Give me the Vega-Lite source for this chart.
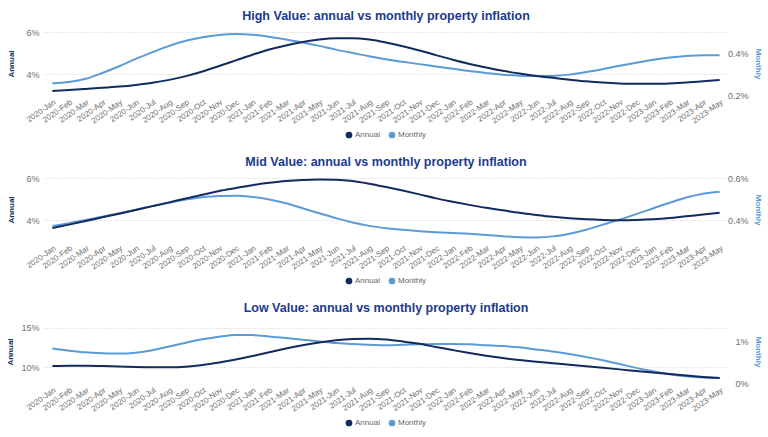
{
  "$schema": "https://vega.github.io/schema/vega-lite/v6.json",
  "background": "white",
  "padding": {"left": 6, "right": 2, "top": 9, "bottom": 2},
  "data": {"values": [
    {"band":"High","month":"2020-Jan","annual":3.19,"monthly":0.256},
    {"band":"High","month":"2020-Feb","annual":3.24,"monthly":0.262},
    {"band":"High","month":"2020-Mar","annual":3.29,"monthly":0.277},
    {"band":"High","month":"2020-Apr","annual":3.34,"monthly":0.305},
    {"band":"High","month":"2020-May","annual":3.40,"monthly":0.337},
    {"band":"High","month":"2020-Jun","annual":3.48,"monthly":0.372},
    {"band":"High","month":"2020-Jul","annual":3.58,"monthly":0.404},
    {"band":"High","month":"2020-Aug","annual":3.72,"monthly":0.434},
    {"band":"High","month":"2020-Sep","annual":3.90,"monthly":0.458},
    {"band":"High","month":"2020-Oct","annual":4.12,"monthly":0.475},
    {"band":"High","month":"2020-Nov","annual":4.38,"monthly":0.486},
    {"band":"High","month":"2020-Dec","annual":4.65,"monthly":0.490},
    {"band":"High","month":"2021-Jan","annual":4.92,"monthly":0.487},
    {"band":"High","month":"2021-Feb","annual":5.17,"monthly":0.477},
    {"band":"High","month":"2021-Mar","annual":5.36,"monthly":0.464},
    {"band":"High","month":"2021-Apr","annual":5.52,"monthly":0.450},
    {"band":"High","month":"2021-May","annual":5.64,"monthly":0.434},
    {"band":"High","month":"2021-Jun","annual":5.70,"monthly":0.416},
    {"band":"High","month":"2021-Jul","annual":5.70,"monthly":0.400},
    {"band":"High","month":"2021-Aug","annual":5.64,"monthly":0.385},
    {"band":"High","month":"2021-Sep","annual":5.50,"monthly":0.370},
    {"band":"High","month":"2021-Oct","annual":5.32,"monthly":0.358},
    {"band":"High","month":"2021-Nov","annual":5.12,"monthly":0.347},
    {"band":"High","month":"2021-Dec","annual":4.90,"monthly":0.336},
    {"band":"High","month":"2022-Jan","annual":4.68,"monthly":0.325},
    {"band":"High","month":"2022-Feb","annual":4.48,"monthly":0.314},
    {"band":"High","month":"2022-Mar","annual":4.31,"monthly":0.305},
    {"band":"High","month":"2022-Apr","annual":4.15,"monthly":0.297},
    {"band":"High","month":"2022-May","annual":4.02,"monthly":0.292},
    {"band":"High","month":"2022-Jun","annual":3.91,"monthly":0.290},
    {"band":"High","month":"2022-Jul","annual":3.82,"monthly":0.291},
    {"band":"High","month":"2022-Aug","annual":3.73,"monthly":0.297},
    {"band":"High","month":"2022-Sep","annual":3.65,"monthly":0.309},
    {"band":"High","month":"2022-Oct","annual":3.59,"monthly":0.323},
    {"band":"High","month":"2022-Nov","annual":3.55,"monthly":0.339},
    {"band":"High","month":"2022-Dec","annual":3.53,"monthly":0.354},
    {"band":"High","month":"2023-Jan","annual":3.53,"monthly":0.368},
    {"band":"High","month":"2023-Feb","annual":3.55,"monthly":0.379},
    {"band":"High","month":"2023-Mar","annual":3.59,"monthly":0.386},
    {"band":"High","month":"2023-Apr","annual":3.65,"monthly":0.389},
    {"band":"High","month":"2023-May","annual":3.72,"monthly":0.389},
    {"band":"Mid","month":"2020-Jan","annual":3.62,"monthly":0.372},
    {"band":"Mid","month":"2020-Feb","annual":3.78,"monthly":0.385},
    {"band":"Mid","month":"2020-Mar","annual":3.95,"monthly":0.400},
    {"band":"Mid","month":"2020-Apr","annual":4.13,"monthly":0.416},
    {"band":"Mid","month":"2020-May","annual":4.30,"monthly":0.432},
    {"band":"Mid","month":"2020-Jun","annual":4.48,"monthly":0.449},
    {"band":"Mid","month":"2020-Jul","annual":4.66,"monthly":0.466},
    {"band":"Mid","month":"2020-Aug","annual":4.84,"monthly":0.482},
    {"band":"Mid","month":"2020-Sep","annual":5.02,"monthly":0.497},
    {"band":"Mid","month":"2020-Oct","annual":5.20,"monthly":0.508},
    {"band":"Mid","month":"2020-Nov","annual":5.38,"monthly":0.514},
    {"band":"Mid","month":"2020-Dec","annual":5.52,"monthly":0.515},
    {"band":"Mid","month":"2021-Jan","annual":5.66,"monthly":0.510},
    {"band":"Mid","month":"2021-Feb","annual":5.77,"monthly":0.498},
    {"band":"Mid","month":"2021-Mar","annual":5.86,"monthly":0.480},
    {"band":"Mid","month":"2021-Apr","annual":5.91,"monthly":0.456},
    {"band":"Mid","month":"2021-May","annual":5.93,"monthly":0.432},
    {"band":"Mid","month":"2021-Jun","annual":5.92,"monthly":0.409},
    {"band":"Mid","month":"2021-Jul","annual":5.86,"monthly":0.388},
    {"band":"Mid","month":"2021-Aug","annual":5.73,"monthly":0.372},
    {"band":"Mid","month":"2021-Sep","annual":5.57,"monthly":0.361},
    {"band":"Mid","month":"2021-Oct","annual":5.40,"monthly":0.353},
    {"band":"Mid","month":"2021-Nov","annual":5.22,"monthly":0.347},
    {"band":"Mid","month":"2021-Dec","annual":5.03,"monthly":0.342},
    {"band":"Mid","month":"2022-Jan","annual":4.87,"monthly":0.338},
    {"band":"Mid","month":"2022-Feb","annual":4.72,"monthly":0.334},
    {"band":"Mid","month":"2022-Mar","annual":4.58,"monthly":0.329},
    {"band":"Mid","month":"2022-Apr","annual":4.46,"monthly":0.323},
    {"band":"Mid","month":"2022-May","annual":4.34,"monthly":0.318},
    {"band":"Mid","month":"2022-Jun","annual":4.24,"monthly":0.317},
    {"band":"Mid","month":"2022-Jul","annual":4.15,"monthly":0.322},
    {"band":"Mid","month":"2022-Aug","annual":4.08,"monthly":0.335},
    {"band":"Mid","month":"2022-Sep","annual":4.03,"monthly":0.354},
    {"band":"Mid","month":"2022-Oct","annual":4.00,"monthly":0.378},
    {"band":"Mid","month":"2022-Nov","annual":3.99,"monthly":0.402},
    {"band":"Mid","month":"2022-Dec","annual":4.00,"monthly":0.428},
    {"band":"Mid","month":"2023-Jan","annual":4.03,"monthly":0.455},
    {"band":"Mid","month":"2023-Feb","annual":4.09,"monthly":0.482},
    {"band":"Mid","month":"2023-Mar","annual":4.18,"monthly":0.507},
    {"band":"Mid","month":"2023-Apr","annual":4.26,"monthly":0.525},
    {"band":"Mid","month":"2023-May","annual":4.35,"monthly":0.535},
    {"band":"Low","month":"2020-Jan","annual":10.15,"monthly":0.82},
    {"band":"Low","month":"2020-Feb","annual":10.18,"monthly":0.77},
    {"band":"Low","month":"2020-Mar","annual":10.18,"monthly":0.73},
    {"band":"Low","month":"2020-Apr","annual":10.15,"monthly":0.71},
    {"band":"Low","month":"2020-May","annual":10.10,"monthly":0.70},
    {"band":"Low","month":"2020-Jun","annual":10.04,"monthly":0.72},
    {"band":"Low","month":"2020-Jul","annual":10.00,"monthly":0.78},
    {"band":"Low","month":"2020-Aug","annual":9.99,"monthly":0.87},
    {"band":"Low","month":"2020-Sep","annual":10.07,"monthly":0.96},
    {"band":"Low","month":"2020-Oct","annual":10.28,"monthly":1.04},
    {"band":"Low","month":"2020-Nov","annual":10.60,"monthly":1.10},
    {"band":"Low","month":"2020-Dec","annual":10.98,"monthly":1.14},
    {"band":"Low","month":"2021-Jan","annual":11.42,"monthly":1.14},
    {"band":"Low","month":"2021-Feb","annual":11.90,"monthly":1.11},
    {"band":"Low","month":"2021-Mar","annual":12.38,"monthly":1.07},
    {"band":"Low","month":"2021-Apr","annual":12.80,"monthly":1.03},
    {"band":"Low","month":"2021-May","annual":13.15,"monthly":0.99},
    {"band":"Low","month":"2021-Jun","annual":13.42,"monthly":0.95},
    {"band":"Low","month":"2021-Jul","annual":13.58,"monthly":0.93},
    {"band":"Low","month":"2021-Aug","annual":13.63,"monthly":0.91},
    {"band":"Low","month":"2021-Sep","annual":13.52,"monthly":0.90},
    {"band":"Low","month":"2021-Oct","annual":13.28,"monthly":0.91},
    {"band":"Low","month":"2021-Nov","annual":12.98,"monthly":0.92},
    {"band":"Low","month":"2021-Dec","annual":12.58,"monthly":0.93},
    {"band":"Low","month":"2022-Jan","annual":12.18,"monthly":0.93},
    {"band":"Low","month":"2022-Feb","annual":11.80,"monthly":0.92},
    {"band":"Low","month":"2022-Mar","annual":11.46,"monthly":0.90},
    {"band":"Low","month":"2022-Apr","annual":11.16,"monthly":0.88},
    {"band":"Low","month":"2022-May","annual":10.92,"monthly":0.85},
    {"band":"Low","month":"2022-Jun","annual":10.70,"monthly":0.80},
    {"band":"Low","month":"2022-Jul","annual":10.52,"monthly":0.75},
    {"band":"Low","month":"2022-Aug","annual":10.32,"monthly":0.69},
    {"band":"Low","month":"2022-Sep","annual":10.13,"monthly":0.62},
    {"band":"Low","month":"2022-Oct","annual":9.93,"monthly":0.54},
    {"band":"Low","month":"2022-Nov","annual":9.73,"monthly":0.45},
    {"band":"Low","month":"2022-Dec","annual":9.53,"monthly":0.36},
    {"band":"Low","month":"2023-Jan","annual":9.33,"monthly":0.28},
    {"band":"Low","month":"2023-Feb","annual":9.13,"monthly":0.21},
    {"band":"Low","month":"2023-Mar","annual":8.94,"monthly":0.16},
    {"band":"Low","month":"2023-Apr","annual":8.77,"monthly":0.13},
    {"band":"Low","month":"2023-May","annual":8.63,"monthly":0.12}
  ]},
  "vconcat": [
    {
      "title": "High Value: annual vs monthly property inflation",
      "width": 684,
      "height": 63,
      "transform": [{"filter": "datum.band === 'High'"}],
      "encoding": {"x": {"field": "month", "type": "ordinal", "sort": null, "scale": {"type": "point", "padding": 0.5}, "axis": {"title": null}}},
      "layer": [
        {
          "mark": {"type": "line", "interpolate": "monotone", "strokeWidth": 2},
          "encoding": {
            "y": {"field": "monthly", "type": "quantitative", "scale": {"domain": [0.2, 0.5], "nice": false, "zero": false},
                  "axis": {"orient": "right", "title": "Monthly", "titleColor": "#5B9BD5", "values": [0.2, 0.4], "labelExpr": "datum.value + '%'", "grid": false, "labelAlign": "right", "labelPadding": 20, "titlePadding": 5}},
            "color": {"datum": "Monthly", "type": "nominal"}
          }
        },
        {
          "mark": {"type": "line", "interpolate": "monotone", "strokeWidth": 2},
          "encoding": {
            "y": {"field": "annual", "type": "quantitative", "scale": {"domain": [3, 6], "nice": false, "zero": false},
                  "axis": {"title": "Annual", "titleColor": "#132A5E", "values": [4, 6], "labelExpr": "datum.value + '%'", "grid": true, "titlePadding": 10}},
            "color": {"datum": "Annual", "type": "nominal",
                      "scale": {"domain": ["Annual", "Monthly"], "range": ["#132A5E", "#5B9BD5"]},
                      "legend": {"title": null, "orient": "bottom", "direction": "horizontal",
                                 "encode": {"symbols": {"update": {"fill": {"signal": "datum.value === 'Annual' ? '#132A5E' : '#5B9BD5'"}, "strokeWidth": {"value": 0}}}}}}
          }
        }
      ],
      "resolve": {"scale": {"y": "independent"}}
    },
    {
      "title": "Mid Value: annual vs monthly property inflation",
      "width": 684,
      "height": 63,
      "transform": [{"filter": "datum.band === 'Mid'"}],
      "encoding": {"x": {"field": "month", "type": "ordinal", "sort": null, "scale": {"type": "point", "padding": 0.5}, "axis": {"title": null}}},
      "layer": [
        {
          "mark": {"type": "line", "interpolate": "monotone", "strokeWidth": 2},
          "encoding": {
            "y": {"field": "monthly", "type": "quantitative", "scale": {"domain": [0.3, 0.6], "nice": false, "zero": false},
                  "axis": {"orient": "right", "title": "Monthly", "titleColor": "#5B9BD5", "values": [0.4, 0.6], "labelExpr": "datum.value + '%'", "grid": false, "labelAlign": "right", "labelPadding": 20, "titlePadding": 5}},
            "color": {"datum": "Monthly", "type": "nominal"}
          }
        },
        {
          "mark": {"type": "line", "interpolate": "monotone", "strokeWidth": 2},
          "encoding": {
            "y": {"field": "annual", "type": "quantitative", "scale": {"domain": [3, 6], "nice": false, "zero": false},
                  "axis": {"title": "Annual", "titleColor": "#132A5E", "values": [4, 6], "labelExpr": "datum.value + '%'", "grid": true, "titlePadding": 10}},
            "color": {"datum": "Annual", "type": "nominal",
                      "scale": {"domain": ["Annual", "Monthly"], "range": ["#132A5E", "#5B9BD5"]},
                      "legend": {"title": null, "orient": "bottom", "direction": "horizontal",
                                 "encode": {"symbols": {"update": {"fill": {"signal": "datum.value === 'Annual' ? '#132A5E' : '#5B9BD5'"}, "strokeWidth": {"value": 0}}}}}}
          }
        }
      ],
      "resolve": {"scale": {"y": "independent"}}
    },
    {
      "title": "Low Value: annual vs monthly property inflation",
      "width": 684,
      "height": 63,
      "transform": [{"filter": "datum.band === 'Low'"}],
      "encoding": {"x": {"field": "month", "type": "ordinal", "sort": null, "scale": {"type": "point", "padding": 0.5}, "axis": {"title": null}}},
      "layer": [
        {
          "mark": {"type": "line", "interpolate": "monotone", "strokeWidth": 2},
          "encoding": {
            "y": {"field": "monthly", "type": "quantitative", "scale": {"domain": [0, 1.5], "nice": false, "zero": false},
                  "axis": {"orient": "right", "title": "Monthly", "titleColor": "#5B9BD5", "values": [0, 1], "labelExpr": "datum.value + '%'", "grid": false, "labelAlign": "right", "labelPadding": 20, "titlePadding": 5}},
            "color": {"datum": "Monthly", "type": "nominal"}
          }
        },
        {
          "mark": {"type": "line", "interpolate": "monotone", "strokeWidth": 2},
          "encoding": {
            "y": {"field": "annual", "type": "quantitative", "scale": {"domain": [8, 16], "nice": false, "zero": false},
                  "axis": {"title": "Annual", "titleColor": "#132A5E", "values": [10, 15], "labelExpr": "datum.value + '%'", "grid": true, "titlePadding": 6}},
            "color": {"datum": "Annual", "type": "nominal",
                      "scale": {"domain": ["Annual", "Monthly"], "range": ["#132A5E", "#5B9BD5"]},
                      "legend": {"title": null, "orient": "bottom", "direction": "horizontal",
                                 "encode": {"symbols": {"update": {"fill": {"signal": "datum.value === 'Annual' ? '#132A5E' : '#5B9BD5'"}, "strokeWidth": {"value": 0}}}}}}
          }
        }
      ],
      "resolve": {"scale": {"y": "independent"}}
    }
  ],
  "spacing": 16,
  "resolve": {"scale": {"color": "independent"}, "legend": {"color": "independent"}},
  "config": {
    "view": {"stroke": null},
    "font": "Liberation Sans",
    "axis": {"domain": false, "ticks": false, "labelColor": "#6e6e6e", "labelFontSize": 9, "labelPadding": 5,
             "titleFontSize": 8, "titleFontWeight": "bold",
             "gridColor": "#cfcfcf", "gridDash": [1, 2], "gridWidth": 1},
    "axisX": {"labelAngle": -35, "labelFontSize": 8, "grid": false, "labelPadding": 3},
    "title": {"fontSize": 12.5, "fontWeight": "bold", "color": "#1C3A8E", "anchor": "middle", "offset": 6},
    "legend": {"labelFontSize": 8, "labelColor": "#666666", "symbolType": "circle", "symbolSize": 45,
               "columnPadding": 8, "symbolOffset": 0, "offset": 6, "padding": 0, "labelOffset": 2,
               "layout": {"bottom": {"anchor": "middle"}}}
  }
}
